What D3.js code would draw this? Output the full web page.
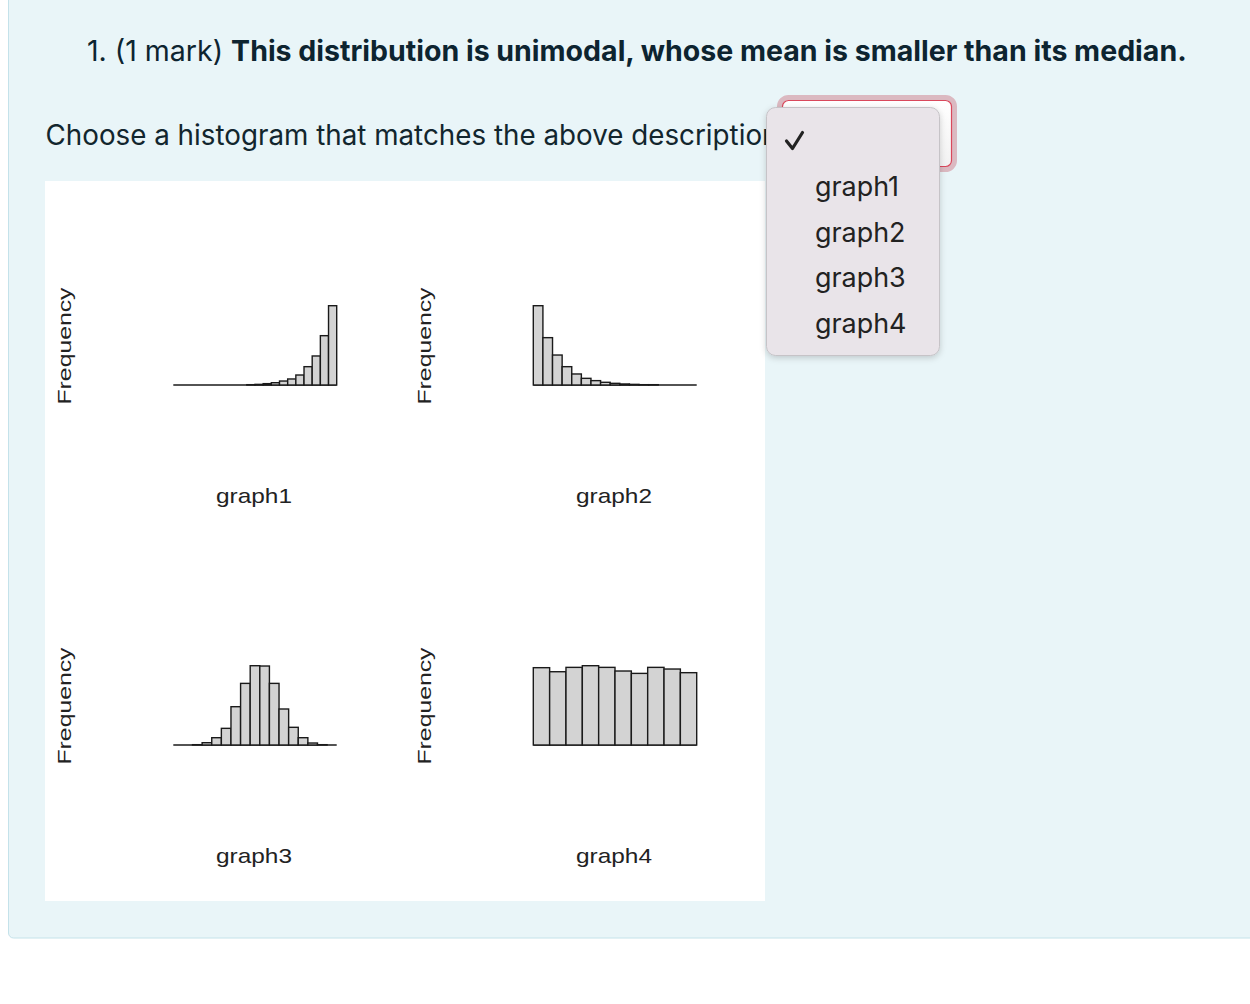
<!DOCTYPE html>
<html><head><meta charset="utf-8">
<script src="https://cdn.jsdelivr.net/npm/d3@7"></script>
<style>body{margin:0;background:#fff;overflow:hidden}svg{display:block}</style>
</head><body>
<script>
// ---- data ----
const graphNames = ["graph1", "graph2", "graph3", "graph4"];
const graph1Counts = [0, 0, 0, 0, 0, 0, 0, 0, 0, 4, 8, 17, 29, 50, 76, 126, 231, 366, 622, 1000];
const graph2Counts = [1000, 597, 378, 231, 139, 84, 55, 34, 21, 13, 8, 4, 4, 0, 0, 0, 0];
const graph3Counts = [0, 0, 4, 29, 92, 210, 483, 777, 1000, 996, 777, 454, 223, 92, 25, 4, 0];
const graph4Counts = [975, 924, 979, 1000, 979, 933, 903, 979, 958, 912];
const yAxisLabel = "Frequency";
const menuOptions = ["graph1", "graph2", "graph3", "graph4"];
const titleNumber = "1. (1 mark) ";
const titleBold = "This distribution is unimodal, whose mean is smaller than its median.";
const promptText = "Choose a histogram that matches the above description";

const W = 1250, H = 1004;
const svg = d3.select("body").append("svg").attr("width", W).attr("height", H);
const defs = svg.append("defs");
const f = defs.append("filter").attr("id", "shadow").attr("x", "-20%").attr("y", "-20%").attr("width", "140%").attr("height", "140%");
f.append("feDropShadow").attr("dx", 0).attr("dy", 2).attr("stdDeviation", 3).attr("flood-color", "#000").attr("flood-opacity", 0.18);
const g1 = defs.append("linearGradient").attr("id", "selgrad").attr("x1", 0).attr("y1", 0).attr("x2", 0).attr("y2", 1);
g1.append("stop").attr("offset", "0%").attr("stop-color", "#ffffff");
g1.append("stop").attr("offset", "100%").attr("stop-color", "#f2f2f2");

// panel
svg.append("rect").attr("x", 8.5).attr("y", -20).attr("width", 1270).attr("height", 958)
  .attr("rx", 5).attr("fill", "#e9f5f8").attr("stroke", "#c4e2ea").attr("stroke-width", 1);

function fit(sel, target) {
  const fs = parseFloat(sel.attr("font-size"));
  const w = sel.node().getComputedTextLength();
  sel.attr("font-size", fs * target / w);
}

// title
const title = svg.append("text").attr("x", 87).attr("y", 61)
  .attr("font-family", "Inter, 'Open Sans', sans-serif").attr("font-size", 28).attr("fill", "#0d2430");
title.append("tspan").attr("font-weight", 400).text(titleNumber);
title.append("tspan").attr("font-weight", 700).text(titleBold);
fit(title, 1100);

// prompt
const measure = svg.append("text").attr("font-family", "Inter, 'Open Sans', sans-serif").attr("font-size", 28)
  .text(promptText.slice(0, promptText.length - 1));
const mw = measure.node().getComputedTextLength();
const promptSize = 28 * 717 / mw;
measure.remove();
svg.append("text").attr("x", 45.5).attr("y", 144.5)
  .attr("font-family", "Inter, 'Open Sans', sans-serif").attr("font-size", promptSize)
  .attr("fill", "#12262e").text(promptText);

// white image box
svg.append("rect").attr("x", 45).attr("y", 181).attr("width", 720).attr("height", 720).attr("fill", "#ffffff");

// histograms
const cells = [
  { name: graphNames[0], counts: graph1Counts, cx: 45, cy: 181 },
  { name: graphNames[1], counts: graph2Counts, cx: 405, cy: 181 },
  { name: graphNames[2], counts: graph3Counts, cx: 45, cy: 541 },
  { name: graphNames[3], counts: graph4Counts, cx: 405, cy: 541 }
];
cells.forEach(c => {
  const g = svg.append("g");
  const x = d3.scaleLinear().domain([0, c.counts.length]).range([c.cx + 128.3, c.cx + 291.7]);
  const y = d3.scaleLinear().domain([0, d3.max(c.counts)]).range([c.cy + 204, c.cy + 124.7]);
  g.append("line").attr("x1", x(0)).attr("x2", x(c.counts.length)).attr("y1", y(0)).attr("y2", y(0))
    .attr("stroke", "#1a1a1a").attr("stroke-width", 1.5);
  g.selectAll("rect").data(c.counts).join("rect")
    .attr("x", (d, i) => x(i)).attr("width", (d, i) => x(i + 1) - x(i))
    .attr("y", d => y(d)).attr("height", d => y(0) - y(d))
    .attr("fill", "#d3d3d3").attr("stroke", "#1a1a1a").attr("stroke-width", 1.4);
  g.append("text").attr("transform", `translate(${c.cx + 26},${c.cy + 165}) rotate(-90)`)
    .attr("text-anchor", "middle").attr("font-family", "'Liberation Sans', Arial, sans-serif")
    .attr("font-size", 19).attr("fill", "#222").attr("textLength", 117).attr("lengthAdjust", "spacingAndGlyphs")
    .text(yAxisLabel);
  g.append("text").attr("x", c.cx + 209).attr("y", c.cy + 322)
    .attr("text-anchor", "middle").attr("font-family", "'Liberation Sans', Arial, sans-serif")
    .attr("font-size", 21).attr("fill", "#222").attr("textLength", 76).attr("lengthAdjust", "spacingAndGlyphs")
    .text(c.name);
});

// select box with focus ring
svg.append("rect").attr("x", 779.5).attr("y", 97.5).attr("width", 175).attr("height", 72).attr("rx", 9)
  .attr("fill", "none").attr("stroke", "#dbb9c1").attr("stroke-width", 5);
svg.append("rect").attr("x", 782.5).attr("y", 100.5).attr("width", 169).attr("height", 66).attr("rx", 6)
  .attr("fill", "url(#selgrad)").attr("stroke", "#d9485c").attr("stroke-width", 1.2);

// popup menu
svg.append("rect").attr("x", 766.5).attr("y", 107.5).attr("width", 173).attr("height", 248).attr("rx", 9)
  .attr("fill", "#e9e4e9").attr("stroke", "#c6c3c7").attr("stroke-width", 1).attr("filter", "url(#shadow)");
svg.append("path").attr("d", "M786.5,141 L792.5,148.5 L802.5,132.5")
  .attr("fill", "none").attr("stroke", "#222").attr("stroke-width", 3.2)
  .attr("stroke-linecap", "round").attr("stroke-linejoin", "round");
const itemY = d3.scalePoint().domain(menuOptions).range([196, 333]);
const items = svg.selectAll("text.item").data(menuOptions).join("text").attr("class", "item")
  .attr("x", 815).attr("y", d => itemY(d))
  .attr("font-family", "Inter, 'Open Sans', sans-serif").attr("font-size", 25).attr("fill", "#222")
  .text(d => d);
const iw = items.nodes()[0].getComputedTextLength();
items.attr("font-size", 25 * 84 / iw);
</script>
</body></html>
